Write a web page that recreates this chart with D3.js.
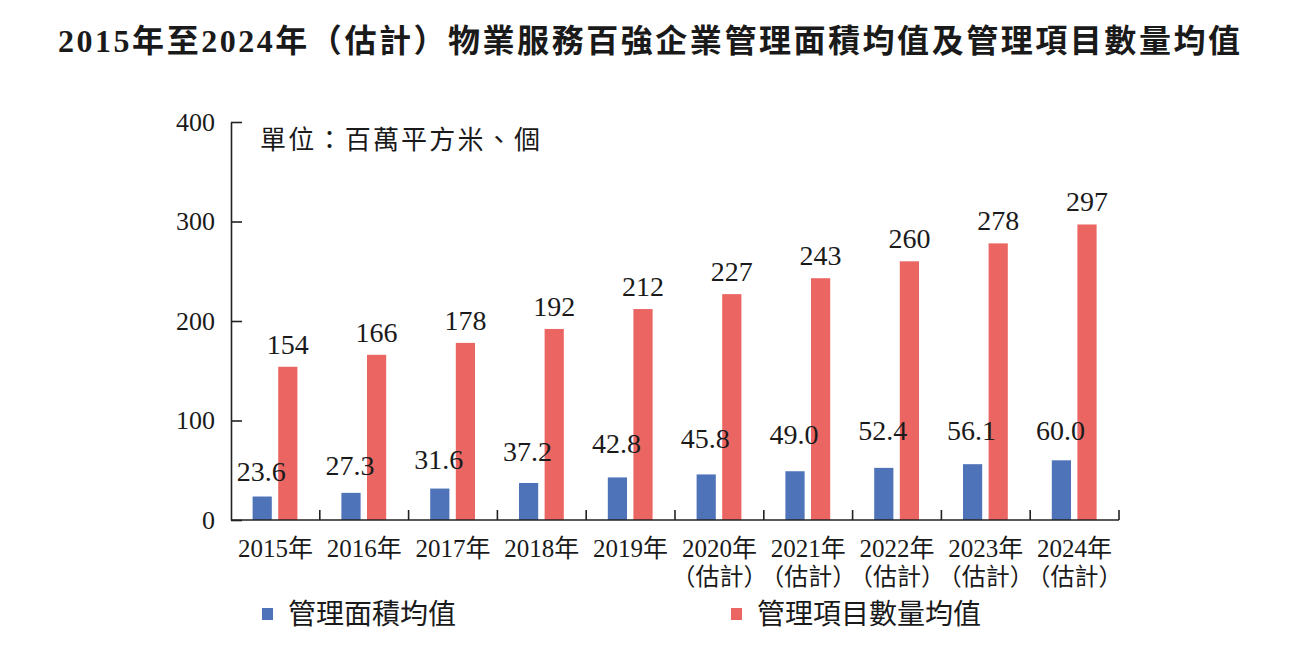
<!DOCTYPE html>
<html>
<head>
<meta charset="utf-8">
<script src="https://cdn.jsdelivr.net/npm/d3@7/dist/d3.min.js"></script>
<style>
  html, body { margin: 0; padding: 0; background: #fff; }
  svg { display: block; }
  text { font-family: "Liberation Serif", "Noto Sans CJK TC", serif; fill: #1a1a1a; }
</style>
</head>
<body>
<svg id="chart" width="1289" height="655"></svg>
<script>
const titleText = "2015年至2024年（估計）物業服務百強企業管理面積均值及管理項目數量均值";
const unitText = "單位：百萬平方米、個";
const categories = ["2015年","2016年","2017年","2018年","2019年","2020年","2021年","2022年","2023年","2024年"];
const subLabels = ["","","","","","（估計）","（估計）","（估計）","（估計）","（估計）"];
const seriesNames = ["管理面積均值","管理項目數量均值"];
const areaValues = [23.6, 27.3, 31.6, 37.2, 42.8, 45.8, 49.0, 52.4, 56.1, 60.0];
const projectValues = [154, 166, 178, 192, 212, 227, 243, 260, 278, 297];
const yTicks = [0, 100, 200, 300, 400];
const colors = ["#4f73b9", "#eb6562"];

const svg = d3.select("#chart");

const x0 = d3.scaleBand().domain(categories).range([231, 1119]);
const x1 = d3.scaleBand().domain(seriesNames).range([21.6, 66.4]).paddingInner(0.25);
const y = d3.scaleLinear().domain([0, 400]).range([520, 122]);

// Title
svg.append("text")
  .attr("x", 649).attr("y", 52)
  .attr("text-anchor", "middle")
  .attr("font-size", 32).attr("font-weight", "bold")
  .attr("textLength", 1182).attr("lengthAdjust", "spacing")
  .text(titleText);

// Unit
svg.append("text")
  .attr("x", 260).attr("y", 140)
  .attr("dominant-baseline", "central")
  .attr("font-size", 26)
  .attr("textLength", 280).attr("lengthAdjust", "spacing")
  .text(unitText);

// Bars
const data = categories.map((c, i) => ({c, vals: [areaValues[i], projectValues[i]]}));
const groups = svg.append("g").selectAll("g").data(data).join("g")
  .attr("transform", d => `translate(${x0(d.c)},0)`);
groups.selectAll("rect")
  .data(d => d.vals.map((v, k) => ({k, v})))
  .join("rect")
  .attr("x", d => x1(seriesNames[d.k]))
  .attr("width", x1.bandwidth())
  .attr("y", d => y(d.v))
  .attr("height", d => y(0) - y(d.v))
  .attr("fill", d => colors[d.k]);

// Y axis
const yAxis = d3.axisLeft(y).tickValues(yTicks).tickSizeInner(-11).tickSizeOuter(0).tickPadding(16);
const gy = svg.append("g").attr("transform", "translate(231,0)").call(yAxis);
gy.select(".domain").attr("stroke", "#222").attr("stroke-width", 1.6);
gy.selectAll(".tick line").attr("stroke", "#222").attr("stroke-width", 1.6);
gy.selectAll(".tick text").attr("font-size", 26).attr("font-family", "Liberation Serif").attr("fill", "#1a1a1a");

// X axis
const xa = svg.append("g");
xa.append("line")
  .attr("x1", x0.range()[0]).attr("x2", x0.range()[1])
  .attr("y1", y(0)).attr("y2", y(0))
  .attr("stroke", "#222").attr("stroke-width", 1.6);
xa.selectAll("line.tk").data(categories).join("line").attr("class", "tk")
  .attr("x1", c => x0(c) + x0.bandwidth()).attr("x2", c => x0(c) + x0.bandwidth())
  .attr("y1", y(0)).attr("y2", y(0) - 10)
  .attr("stroke", "#222").attr("stroke-width", 1.6);
xa.selectAll("text.cat").data(categories).join("text").attr("class", "cat")
  .attr("x", c => x0(c) + x0.bandwidth() / 2)
  .attr("y", y(0) + 28)
  .attr("dominant-baseline", "central")
  .attr("text-anchor", "middle")
  .attr("font-size", 25)
  .text(c => c);
xa.selectAll("text.sub").data(categories).join("text").attr("class", "sub")
  .attr("x", c => x0(c) + x0.bandwidth() / 2)
  .attr("y", y(0) + 57)
  .attr("dominant-baseline", "central")
  .attr("text-anchor", "middle")
  .attr("font-size", 24)
  .text((c, i) => subLabels[i]);

// Value labels (drawn after bars)
const lab = svg.append("g");
lab.selectAll("text.a").data(data).join("text").attr("class", "a")
  .attr("x", d => x0(d.c) + x1(seriesNames[0]) + x1.bandwidth() / 2 - 1)
  .attr("y", d => Math.max(440, y(d.vals[0]) - (16 + 0.45 * (d.vals[0] - areaValues[0]))))
  .attr("text-anchor", "middle")
  .attr("font-size", 28)
  .text(d => d.vals[0].toFixed(1));
lab.selectAll("text.p").data(data).join("text").attr("class", "p")
  .attr("x", d => x0(d.c) + x1(seriesNames[1]) + x1.bandwidth() / 2)
  .attr("y", d => y(d.vals[1]) - 13)
  .attr("text-anchor", "middle")
  .attr("font-size", 28)
  .text(d => d.vals[1]);

// Legend
const legendX = [262, 731];
const lg = svg.append("g").selectAll("g").data(seriesNames).join("g")
  .attr("transform", (d, i) => `translate(${legendX[i]},614)`);
lg.append("rect").attr("x", 0).attr("y", -6).attr("width", 11).attr("height", 12)
  .attr("fill", (d, i) => colors[i]);
lg.append("text").attr("x", 26).attr("y", 0)
  .attr("dominant-baseline", "central")
  .attr("font-size", 28)
  .text(d => d);
</script>
</body>
</html>
